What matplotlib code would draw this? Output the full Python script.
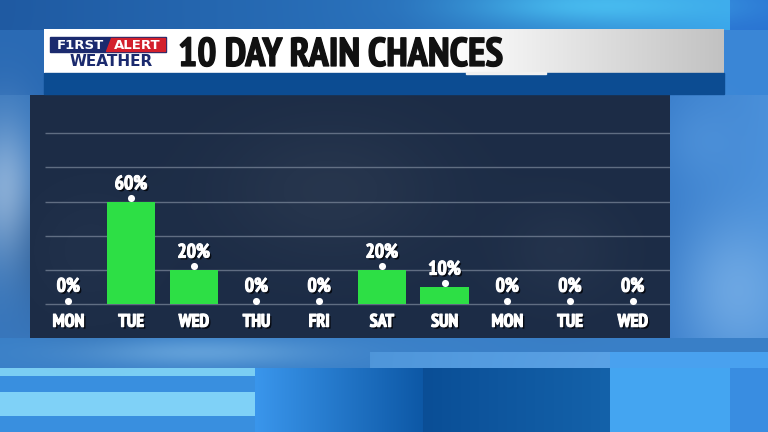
import os
import numpy as np
import matplotlib
matplotlib.use('Agg')
import matplotlib.pyplot as plt
from matplotlib import font_manager
from matplotlib.font_manager import FontProperties
from matplotlib.textpath import TextPath
from matplotlib.patches import Rectangle, Polygon
import matplotlib.patheffects as pe

days = ['MON', 'TUE', 'WED', 'THU', 'FRI', 'SAT', 'SUN', 'MON', 'TUE', 'WED']
rain = [0, 60, 20, 0, 0, 20, 10, 0, 0, 0]
grid_levels = [0, 20, 40, 60, 80, 100]
title = '10 DAY RAIN CHANCES'


def pick_narrow():
    found = []
    for f in font_manager.fontManager.ttflist:
        fn = os.path.basename(f.fname).lower()
        if 'bold' not in fn:
            continue
        if any(k in fn for k in ('italic', 'oblique', 'semibold', 'extrabold', 'semi', 'extra', 'ultra')):
            continue
        if 'narrow' in fn:
            found.append((0, f.fname))
        elif 'condensed' in fn:
            found.append((1, f.fname))
    if found:
        return FontProperties(fname=sorted(found)[0][1])
    return FontProperties(family='Roboto', weight='bold')


narrow = pick_narrow()
plain_bold = FontProperties(family='DejaVu Sans', weight='bold')


def fit(s, prop, width_px, max_pt):
    # size (pt) so the ink of s is width_px wide at 100 dpi, capped by max_pt
    w = TextPath((0, 0), s, size=100, prop=prop).get_extents().width
    size = width_px * 72 / w
    p = prop.copy()
    p.set_size(min(size, max_pt))
    return p


W, H = 768, 432


def hexc(h):
    return np.array(matplotlib.colors.to_rgb(h))


def rect(img, x0, x1, y0, y1, c0, c1=None):
    c0 = hexc(c0)
    c1 = c0 if c1 is None else hexc(c1)
    t = np.linspace(0, 1, x1 - x0)[None, :, None]
    img[y0:y1, x0:x1] = c0 * (1 - t) + c1 * t


yy, xx = np.mgrid[0:H, 0:W]


def blob(img, cx, cy, rx, ry, color, k):
    w = k * np.exp(-(((xx - cx) / rx) ** 2 + ((yy - cy) / ry) ** 2))
    img[:] = img * (1 - w[..., None]) + hexc(color) * w[..., None]


# background sky
bg = np.zeros((H, W, 3))
rect(bg, 0, W, 0, H, '#2a68b0')
rect(bg, 0, 400, 0, 30, '#1f5aa2', '#2a72bc')
rect(bg, 400, 730, 0, 30, '#2a72bc', '#3aa6ea')
rect(bg, 730, 768, 0, 30, '#2a74d2')
blob(bg, 600, 5, 120, 18, '#4cc4f4', 0.8)
rect(bg, 0, 44, 30, 95, '#2a6ab4')
rect(bg, 724, 768, 30, 95, '#3a86d6')
rect(bg, 0, 30, 95, 340, '#3776bc')
rect(bg, 670, 768, 95, 340, '#3b7fcc', '#4a90da')
blob(bg, 5, 190, 30, 70, '#9dbde0', 0.8)
blob(bg, 735, 290, 55, 70, '#7cb2e8', 0.7)
blob(bg, 700, 140, 40, 40, '#5a9ce0', 0.4)
rect(bg, 0, W, 338, 368, '#3a80c8')
blob(bg, 200, 352, 120, 14, '#7ab4e4', 0.6)
rect(bg, 370, 610, 352, 368, '#4f96da', '#5aa2e6')
rect(bg, 610, 768, 352, 368, '#4aa2f0')
rect(bg, 0, 255, 368, 432, '#3a90e0')
rect(bg, 0, 255, 368, 376, '#7ccff4')
rect(bg, 0, 255, 392, 416, '#80d2f8')
rect(bg, 255, 423, 368, 432, '#3a96ec', '#0d58a6')
rect(bg, 423, 610, 368, 432, '#0a4e96', '#1462aa')
rect(bg, 610, 730, 368, 432, '#45a6f2')
rect(bg, 730, 768, 368, 432, '#3a8ee2')
# panel
rect(bg, 30, 670, 95, 338, '#1c2c46')
blob(bg, 330, 190, 110, 70, '#2e3c52', 0.6)
blob(bg, 560, 250, 60, 50, '#2b3a52', 0.5)
blob(bg, 90, 250, 60, 60, '#24344e', 0.6)

fig = plt.figure(figsize=(7.68, 4.32), dpi=100)
bgax = fig.add_axes([0, 0, 1, 1])
bgax.imshow(bg, extent=(0, W, H, 0), aspect='auto', interpolation='bilinear')
bgax.set_xlim(0, W)
bgax.set_ylim(H, 0)
bgax.axis('off')

# header
hdr = np.ones((2, 200, 3))
t = np.clip((np.linspace(0, 1, 200) - 0.6) / 0.4, 0, 1)[None, :, None]
hdr = hdr * (1 - t) + hexc('#c2c2c2') * t
bgax.imshow(hdr, extent=(44, 724, 73, 29), aspect='auto', interpolation='bilinear', zorder=2)
bgax.add_patch(Rectangle((44, 73), 680, 21, color='#0c4c92', zorder=2))
bgax.add_patch(Rectangle((466, 72), 80, 2, color='#f0f0f0', zorder=3))
bgax.add_patch(Rectangle((50, 36.5), 116, 15, color='#1b2a6e', zorder=3))
bgax.add_patch(Polygon([(111, 37.5), (165, 37.5), (165, 50.5), (106, 50.5)],
                       closed=True, color='#d3202c', zorder=4))
bgax.text(80, 49.3, 'F1RST', color='white', fontproperties=fit('F1RST', plain_bold, 46, 9.5),
          ha='center', va='baseline', zorder=5)
bgax.text(137, 49.3, 'ALERT', color='white', fontproperties=fit('ALERT', plain_bold, 48, 9.5),
          ha='center', va='baseline', zorder=5)
bgax.text(111, 65.5, 'WEATHER', color='#1b2a6e', fontproperties=fit('WEATHER', plain_bold, 92, 11),
          ha='center', va='baseline', zorder=5)
bgax.text(178, 66, title, color='#111111', fontproperties=fit(title, narrow, 341, 29),
          ha='left', va='baseline', zorder=5,
          path_effects=[pe.withStroke(linewidth=0.9, foreground='#111111')])

# chart panel
ax = fig.add_axes([30 / W, (H - 338) / H, 640 / W, 243 / H])
ax.set_facecolor('none')
ax.set_xlim(-0.611, 9.596)
ax.set_ylim(-19.92, 122.4)
ax.axis('off')

x = np.arange(len(days))
ax.hlines(grid_levels, -0.372, 9.596, color='#8d99ab', lw=1, alpha=0.6, zorder=1)
ax.bar(x, rain, width=0.77, color='#2ddf45', zorder=2)
ax.scatter(x, np.array(rain) + 2, s=26, color='white', zorder=3, linewidths=0)

shadow = [pe.withSimplePatchShadow(offset=(1.4, -1.4), shadow_rgbFace='#05080f', alpha=0.95),
          pe.withStroke(linewidth=0.8, foreground='white')]
val_font = fit('60%', narrow, 36, 14)
day_font = fit('MON', narrow, 33, 13)
for xi, v in zip(x, rain):
    ax.text(xi, v + 7.2, f'{v}%', color='white', fontproperties=val_font,
            ha='center', va='baseline', path_effects=shadow, zorder=4)
for xi, d in zip(x, days):
    ax.text(xi, -13.3, d, color='white', fontproperties=day_font,
            ha='center', va='baseline', path_effects=shadow, zorder=4)

fig.savefig('out.png', dpi=100)
